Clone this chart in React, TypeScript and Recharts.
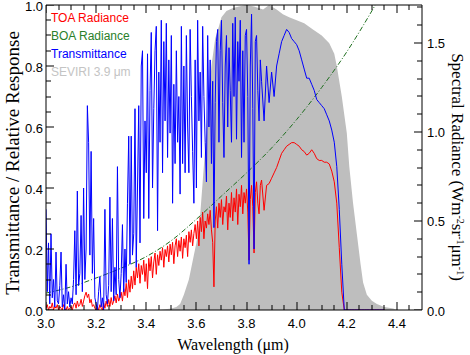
import { ComposedChart, Line, Area, Scatter, XAxis, YAxis } from "recharts"

// fine grid 3.000 - 3.855 um, step 0.005
const FINE_START = 3.0
const FINE_STEP = 0.005

const transFine = [
    0.33, 0.06, 0.22, 0.02, 0.25, 0.04, 0.10, 0.01, 0.19, 0.03,
    0.02, 0.08, 0.19, 0.01, 0.05, 0.00, 0.15, 0.02, 0.06, 0.01,
    0.04, 0.02, 0.10, 0.26, 0.05, 0.39, 0.08, 0.12, 0.31, 0.06,
    0.40, 0.10, 0.20, 0.67, 0.55, 0.18, 0.52, 0.12, 0.30, 0.04,
    0.02, 0.00, 0.06, 0.11, 0.01, 0.04, 0.00, 0.33, 0.05, 0.02,
    0.08, 0.37, 0.06, 0.30, 0.03, 0.14, 0.05, 0.47, 0.10, 0.04,
    0.12, 0.28, 0.06, 0.20, 0.09, 0.35, 0.57, 0.15, 0.57, 0.18,
    0.25, 0.66, 0.14, 0.40, 0.67, 0.22, 0.80, 0.85, 0.30, 0.62,
    0.45, 0.84, 0.30, 0.72, 0.91, 0.40, 0.66, 0.85, 0.93, 0.26,
    0.78, 0.55, 0.95, 0.45, 0.88, 0.62, 0.94, 0.50, 0.82, 0.58,
    0.90, 0.35, 0.74, 0.48, 0.85, 0.55, 0.70, 0.38, 0.93, 0.48,
    0.80, 0.45, 0.90, 0.60, 0.45, 0.92, 0.70, 0.52, 0.35, 0.82,
    0.40, 0.95, 0.62, 0.78, 0.50, 0.93, 0.70, 0.55, 0.42, 0.90,
    0.60, 0.82, 0.48, 0.75, 0.27, 0.68, 0.88, 0.92, 0.55, 0.85,
    0.95, 0.68, 0.50, 0.80, 0.90, 0.60, 0.86, 0.72, 0.55, 0.94,
    0.70, 0.96, 0.56, 0.88, 0.75, 0.95, 0.50, 0.85, 0.55, 0.90,
    0.92, 0.70, 0.15, 0.80, 0.97, 0.66, 0.20, 0.88, 0.90, 0.72, 0.62, 0.82,
]

const toaFine = [
    0.01, 0.03, 0.00, 0.02, 0.01, 0.04, 0.00, 0.02, 0.01, 0.03,
    0.00, 0.02, 0.01, 0.00, 0.03, 0.01, 0.00, 0.02, 0.00, 0.01,
    0.02, 0.00, 0.03, 0.04, 0.01, 0.05, 0.02, 0.03, 0.06, 0.02,
    0.05, 0.08, 0.10, 0.07, 0.09, 0.04, 0.06, 0.02, 0.03, 0.01,
    0.00, 0.02, 0.00, 0.03, 0.01, 0.00, 0.04, 0.01, 0.05, 0.02,
    0.06, 0.02, 0.07, 0.03, 0.05, 0.08, 0.04, 0.09, 0.05, 0.07,
    0.10, 0.05, 0.12, 0.08, 0.15, 0.07, 0.17, 0.10, 0.19, 0.12,
    0.22, 0.14, 0.24, 0.18, 0.26, 0.15, 0.25, 0.20, 0.28, 0.16,
    0.26, 0.12, 0.29, 0.22, 0.30, 0.18, 0.27, 0.32, 0.20, 0.31,
    0.25, 0.33, 0.28, 0.35, 0.24, 0.34, 0.30, 0.36, 0.27, 0.37,
    0.31, 0.38, 0.26, 0.36, 0.40, 0.30, 0.39, 0.33, 0.41, 0.29,
    0.40, 0.35, 0.42, 0.30, 0.44, 0.38, 0.45, 0.36, 0.43, 0.48,
    0.40, 0.50, 0.36, 0.52, 0.44, 0.55, 0.40, 0.50, 0.46, 0.54,
    0.48, 0.56, 0.45, 0.38, 0.13, 0.50, 0.58, 0.46, 0.60, 0.52,
    0.62, 0.48, 0.58, 0.55, 0.64, 0.45, 0.60, 0.52, 0.66, 0.50,
    0.63, 0.55, 0.68, 0.48, 0.65, 0.58, 0.70, 0.54, 0.66, 0.60,
    0.68, 0.55, 0.28, 0.62, 0.70, 0.58, 0.32, 0.66, 0.72, 0.60, 0.54, 0.70,
]

// coarse grid 3.86 - 4.35 um
const coarseWavelength = [
    3.86, 3.87, 3.88, 3.89, 3.90, 3.91, 3.92, 3.93, 3.94, 3.95,
    3.96, 3.97, 3.98, 3.99, 4.00, 4.01, 4.02, 4.03, 4.04, 4.05,
    4.06, 4.07, 4.08, 4.09, 4.10, 4.11, 4.12, 4.13, 4.14, 4.15,
    4.16, 4.17, 4.18, 4.19, 4.20, 4.21, 4.22, 4.23, 4.24, 4.25,
    4.26, 4.27, 4.28, 4.29, 4.30, 4.31, 4.32, 4.33, 4.34, 4.35,
]
const transCoarse = [
    0.75, 0.62, 0.80, 0.68, 0.78, 0.70, 0.80, 0.84, 0.88, 0.90,
    0.92, 0.91, 0.89, 0.88, 0.87, 0.85, 0.82, 0.79, 0.76, 0.76,
    0.74, 0.72, 0.69, 0.68, 0.67, 0.66, 0.64, 0.62, 0.59, 0.55,
    0.47, 0.33, 0.15, 0, 0, 0, 0, 0, 0, 0,
    0, 0, 0, 0, 0, 0, 0, 0, 0, 0,
]
const toaCoarse = [
    0.73, 0.56, 0.70, 0.71, 0.74, 0.77, 0.80, 0.84, 0.88, 0.90,
    0.92, 0.93, 0.94, 0.94, 0.93, 0.92, 0.90, 0.89, 0.87, 0.88,
    0.90, 0.88, 0.85, 0.84, 0.84, 0.83, 0.83, 0.82, 0.78, 0.72,
    0.60, 0.35, 0.10, 0, 0, 0, 0, 0, 0, 0,
    0, 0, 0, 0, 0, 0, 0, 0, 0, 0,
]

// SEVIRI 3.9 um relative response
const seviriWavelength = [
    3.45, 3.50, 3.52, 3.535, 3.55, 3.57, 3.59, 3.60, 3.614, 3.625,
    3.634, 3.645, 3.66, 3.675, 3.69, 3.70, 3.72, 3.746, 3.77, 3.80,
    3.83, 3.866, 3.89, 3.92, 3.945, 3.97, 4.00, 4.03, 4.065, 4.10,
    4.13, 4.15, 4.16, 4.18, 4.20, 4.21, 4.225, 4.24, 4.255, 4.265,
    4.28, 4.30, 4.32, 4.35, 4.385, 4.40,
]
const seviriResponse = [
    0, 0.005, 0.01, 0.02, 0.05, 0.10, 0.18, 0.22, 0.30, 0.42,
    0.52, 0.65, 0.80, 0.89, 0.93, 0.96, 0.98, 0.99, 0.995, 1.0,
    0.995, 0.985, 1.0, 0.985, 0.97, 0.96, 0.95, 0.94, 0.92, 0.90,
    0.875, 0.84, 0.80, 0.70, 0.58, 0.47, 0.35, 0.25, 0.15, 0.09,
    0.05, 0.03, 0.02, 0.01, 0.005, 0,
]

// BOA radiance (dash-dot)
const boaWavelength = [3.0, 3.1, 3.2, 3.3, 3.4, 3.5, 3.6, 3.7, 3.8, 3.9, 4.0, 4.1, 4.2, 4.3, 4.4]
const boaRadiance = [0.095, 0.13, 0.18, 0.235, 0.30, 0.39, 0.51, 0.64, 0.77, 0.91, 1.07, 1.25, 1.45, 1.68, 1.93]

// axis ticks
const xMajor = [3.0, 3.2, 3.4, 3.6, 3.8, 4.0, 4.2, 4.4]
const xMinor = [
    3.05, 3.1, 3.15, 3.25, 3.3, 3.35, 3.45, 3.5, 3.55, 3.65, 3.7, 3.75,
    3.85, 3.9, 3.95, 4.05, 4.1, 4.15, 4.25, 4.3, 4.35, 4.45,
]
const leftMajor = [0, 0.2, 0.4, 0.6, 0.8, 1.0]
const leftMinor = [0.05, 0.1, 0.15, 0.25, 0.3, 0.35, 0.45, 0.5, 0.55, 0.65, 0.7, 0.75, 0.85, 0.9, 0.95]
const rightMajor = [0, 0.5, 1.0, 1.5]
const rightMinor = [0.1, 0.2, 0.3, 0.4, 0.6, 0.7, 0.8, 0.9, 1.1, 1.2, 1.3, 1.4, 1.6, 1.7]

const rows = [
    ...transFine.map((t, i) => ({
        w: +(FINE_START + i * FINE_STEP).toFixed(3),
        trans: t,
        toa: toaFine[i],
    })),
    ...coarseWavelength.map((w, i) => ({ w, trans: transCoarse[i], toa: toaCoarse[i] })),
]
const seviriData = seviriWavelength.map((w, i) => ({ w, resp: seviriResponse[i] }))
const boaData = boaWavelength.map((w, i) => ({ w, boa: boaRadiance[i] }))

const SANS = "'Liberation Sans', Arial, Helvetica, sans-serif"
const SERIF = "'Liberation Serif', 'Times New Roman', serif"
const X_DOMAIN = [3.0, 4.5]
const L_DOMAIN = [0, 1]
const R_DOMAIN = [0, 1.713]
const MAJOR_LEN = 8
const MINOR_LEN = 5

// inward tick marks, placed through the axes' scales
const withLen = (major: number[], minor: number[]) => [
    ...major.map((v) => ({ v, len: MAJOR_LEN })),
    ...minor.map((v) => ({ v, len: MINOR_LEN })),
]
const bottomMarks = withLen(xMajor, xMinor).map((t) => ({ w: t.v, y: L_DOMAIN[0], len: t.len, dir: "up" }))
const topMarks = withLen(xMajor, xMinor).map((t) => ({ w: t.v, y: L_DOMAIN[1], len: t.len, dir: "down" }))
const leftMarks = withLen(leftMajor, leftMinor).map((t) => ({ w: X_DOMAIN[0], y: t.v, len: t.len, dir: "right" }))
const rightMarks = withLen(rightMajor, rightMinor).map((t) => ({ w: X_DOMAIN[1], y: t.v, len: t.len, dir: "left" }))

const TickShape = (props: any) => {
    const p = props.payload && props.payload.dir ? props.payload : props
    const cx = Math.round(Number(props.cx))
    const cy = Math.round(Number(props.cy))
    const len = Number(p.len) || MINOR_LEN
    let x = cx - 0.5
    let y = cy - 0.5
    let w = 1
    let h = 1
    if (p.dir === "up") { y = cy - len; h = len }
    else if (p.dir === "down") { y = cy; h = len }
    else if (p.dir === "right") { x = cx; w = len }
    else { x = cx - len; w = len }
    if (p.dir === "up" || p.dir === "down") x = cx - 0.5
    else y = cy - 0.5
    return <rect x={x} y={y} width={w} height={h} fill="#000" stroke="none" />
}

const makeLabel = (dx: number, dy: number, anchor: string) => (props: any) => (
    <text
        x={props.x + dx}
        y={props.y + dy}
        textAnchor={anchor}
        fontSize={13}
        fontFamily={SANS}
        fill="#000"
    >
        {Number(props.payload.value).toFixed(1)}
    </text>
)

const legendItems = [
    { name: "TOA Radiance", color: "#ff0000", y: 21.5 },
    { name: "BOA Radiance", color: "#2a7f2a", y: 40.3 },
    { name: "Transmittance", color: "#0000ff", y: 58.3 },
    { name: "SEVIRI 3.9 \u03bcm", color: "#c4c4c4", y: 76.3 },
]

export default function App() {
    return (
        <div style={{ position: "absolute", left: 0, top: 0, width: 470, height: 355, background: "#fff" }}>
            <ComposedChart
                width={470}
                height={355}
                data={rows}
                margin={{ top: 4, right: 47, bottom: 44, left: 45 }}
            >
                <XAxis
                    dataKey="w"
                    type="number"
                    domain={X_DOMAIN}
                    allowDataOverflow
                    ticks={xMajor}
                    interval={0}
                    height={1}
                    tickSize={0}
                    tickMargin={0}
                    tickLine={false}
                    axisLine={{ stroke: "#000" }}
                    tick={makeLabel(0, 18, "middle")}
                />
                <XAxis
                    xAxisId="top"
                    orientation="top"
                    type="number"
                    domain={X_DOMAIN}
                    allowDataOverflow
                    ticks={xMajor}
                    height={1}
                    tickLine={false}
                    axisLine={{ stroke: "#000" }}
                    tick={false}
                />
                <YAxis
                    yAxisId="left"
                    type="number"
                    domain={L_DOMAIN}
                    allowDataOverflow
                    ticks={leftMajor}
                    interval={0}
                    width={1}
                    tickSize={0}
                    tickMargin={0}
                    tickLine={false}
                    axisLine={{ stroke: "#000" }}
                    tick={makeLabel(-3, 5.5, "end")}
                />
                <YAxis
                    yAxisId="right"
                    orientation="right"
                    type="number"
                    domain={R_DOMAIN}
                    allowDataOverflow
                    ticks={rightMajor}
                    interval={0}
                    width={1}
                    tickSize={0}
                    tickMargin={0}
                    tickLine={false}
                    axisLine={{ stroke: "#000" }}
                    tick={makeLabel(5, 5.5, "start")}
                />
                <Area
                    data={seviriData}
                    yAxisId="left"
                    dataKey="resp"
                    type="linear"
                    fill="#bebebe"
                    fillOpacity={1}
                    stroke="none"
                    isAnimationActive={false}
                />
                <Line
                    yAxisId="right"
                    dataKey="toa"
                    type="linear"
                    stroke="#ff0000"
                    strokeWidth={1}
                    dot={false}
                    isAnimationActive={false}
                />
                <Line
                    data={boaData}
                    yAxisId="right"
                    dataKey="boa"
                    type="monotone"
                    stroke="#1e6e1e"
                    strokeWidth={1}
                    strokeDasharray="5 2 1 2"
                    dot={false}
                    isAnimationActive={false}
                />
                <Line
                    yAxisId="left"
                    dataKey="trans"
                    type="linear"
                    stroke="#0000ff"
                    strokeWidth={1}
                    dot={false}
                    isAnimationActive={false}
                />
                <Scatter data={bottomMarks} yAxisId="left" dataKey="y" fill="#000" shape={TickShape} isAnimationActive={false} />
                <Scatter data={topMarks} yAxisId="left" dataKey="y" fill="#000" shape={TickShape} isAnimationActive={false} />
                <Scatter data={leftMarks} yAxisId="left" dataKey="y" fill="#000" shape={TickShape} isAnimationActive={false} />
                <Scatter data={rightMarks} yAxisId="right" dataKey="y" fill="#000" shape={TickShape} isAnimationActive={false} />
            </ComposedChart>
            <svg
                width={470}
                height={355}
                style={{ position: "absolute", left: 0, top: 0, pointerEvents: "none" }}
            >
                {legendItems.map((item) => (
                    <text key={item.name} x={51} y={item.y} fontSize={12} fontFamily={SANS} fill={item.color}>
                        {item.name}
                    </text>
                ))}
                <text
                    x={19}
                    y={163}
                    transform="rotate(-90, 19, 163)"
                    textAnchor="middle"
                    fontSize={19}
                    fontFamily={SERIF}
                    fill="#000"
                >
                    Transmittance / Relative Response
                </text>
                <text x={233} y={350} textAnchor="middle" fontSize={16} fontFamily={SERIF} fill="#000">
                    Wavelength (μm)
                </text>
                <text
                    x={452}
                    y={167}
                    transform="rotate(90, 452, 167)"
                    textAnchor="middle"
                    fontSize={17}
                    fontFamily={SERIF}
                    fill="#000"
                >
                    Spectral Radiance (Wm
                    <tspan dy={-5} fontSize={10}>-2</tspan>
                    <tspan dy={5}>sr</tspan>
                    <tspan dy={-5} fontSize={10}>-1</tspan>
                    <tspan dy={5}>μm</tspan>
                    <tspan dy={-5} fontSize={10}>-1</tspan>
                    <tspan dy={5}>)</tspan>
                </text>
            </svg>
        </div>
    )
}
